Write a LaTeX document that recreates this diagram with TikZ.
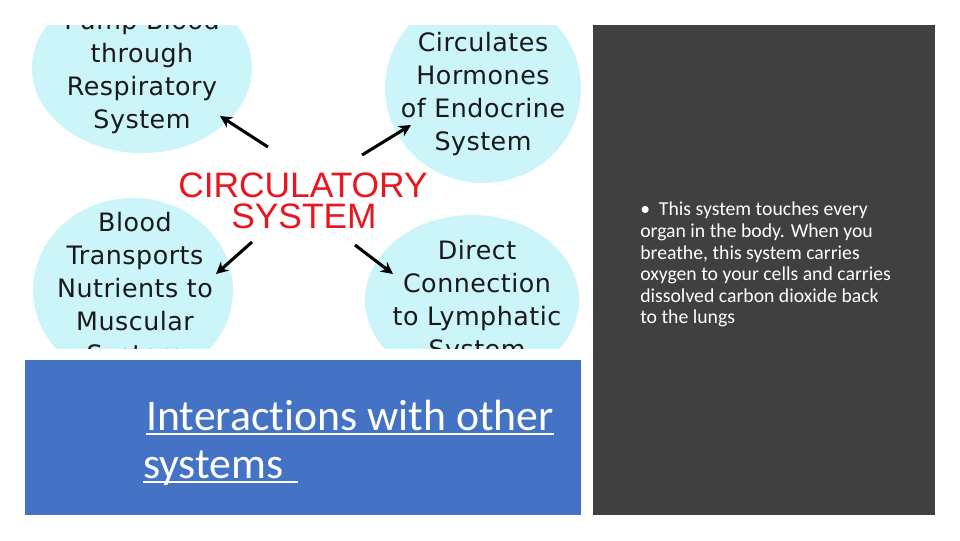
\documentclass[tikz,border=0pt]{standalone}
\usepackage{fontspec}
\setmainfont[Ligatures={NoCommon}]{Carlito}
\newfontfamily\circfont[LetterSpace=2]{DejaVu Sans}
\newfontfamily\titfont{Liberation Sans}
\usetikzlibrary{arrows.meta}
\definecolor{circfill}{RGB}{204,245,250}
\definecolor{circtext}{RGB}{25,25,25}
\definecolor{titred}{RGB}{232,22,30}
\definecolor{bluebox}{RGB}{68,114,196}
\definecolor{darkbox}{RGB}{64,64,64}
\tikzset{
  bubble/.style={fill=circfill},
  bubbletext/.style={font=\circfont\fontsize{19}{24.75}\selectfont, text=circtext, align=center, inner sep=0pt},
  titletext/.style={font=\titfont\fontsize{26.5}{30}\selectfont, text=titred, inner sep=0pt, anchor=base},
  arr/.style={-{Stealth[length=9pt,width=9pt]}, line width=2.3pt, black},
  headtext/.style={font=\fontsize{32.8}{36}\selectfont, text=white, inner sep=0pt, anchor=base west},
  bodytext/.style={font=\fontsize{14.8}{16.2}\selectfont, text=white, align=left, inner sep=0pt, anchor=north west},
  uline/.style={white, line width=1.6pt}
}
\begin{document}
\begin{tikzpicture}[x=0.75pt,y=-0.75pt]
\useasboundingbox (0,0) rectangle (960,540);
\fill[white] (0,0) rectangle (960,540);
\begin{scope}
  \clip (25,25) rectangle (581,348);
  \fill[bubble] (142,68) ellipse [x radius=82.5pt, y radius=63.75pt];
  \fill[bubble] (483,88) ellipse [x radius=73.5pt, y radius=71.25pt];
  \fill[bubble] (133,290) ellipse [x radius=75pt, y radius=69pt];
  \fill[bubble] (472,300) ellipse [x radius=80.25pt, y radius=63.75pt];
  \node[bubbletext] (resp) at (142,72) {Pump Blood\\through\\Respiratory\\System};
  \node[bubbletext] (endo) at (483,94) {Circulates\\Hormones\\of Endocrine\\System};
  \node[bubbletext] (musc) at (135,291) {Blood\\Transports\\Nutrients to\\Muscular\\System};
  \node[bubbletext] (lymph) at (477,302) {Direct\\Connection\\to Lymphatic\\System};
\end{scope}
\node[titletext] (title1) at (303,197) {CIRCULATORY};
\node[titletext] (title2) at (304,228.5) {SYSTEM};
\coordinate (a1s) at (268,147); \coordinate (a1e) at (220,116);
\coordinate (a2s) at (362,155); \coordinate (a2e) at (411,125);
\coordinate (a3s) at (252,242); \coordinate (a3e) at (216,274);
\coordinate (a4s) at (355,245); \coordinate (a4e) at (393,274);
\draw[arr] (a1s) -- (a1e);
\draw[arr] (a2s) -- (a2e);
\draw[arr] (a3s) -- (a3e);
\draw[arr] (a4s) -- (a4e);
\fill[bluebox] (25,360) rectangle (581,515);
\node[headtext] (h1) at (146,430) {Interactions with other};
\node[headtext] (h2) at (143,478) {systems\kern0.32em\null};
\draw[uline] ([yshift=-3pt]h1.base west) -- ([yshift=-3pt]h1.base east);
\draw[uline] ([yshift=-3pt]h2.base west) -- ([yshift=-3pt]h2.base east);
\fill[darkbox] (593,25) rectangle (935,515);
\node[bodytext] (body) at (640,202) {\textbullet\hspace{0.45em}This system touches every\\organ in the body. When you\\breathe, this system carries\\oxygen to your cells and carries\\dissolved carbon dioxide back\\to the lungs};
\end{tikzpicture}
\end{document}
